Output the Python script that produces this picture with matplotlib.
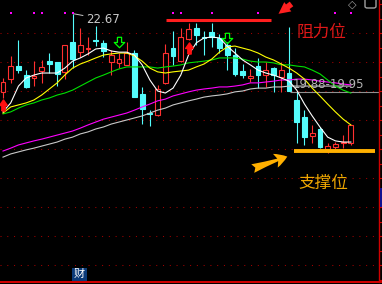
import matplotlib
matplotlib.use('Agg')
import numpy as np
import matplotlib.pyplot as plt
from matplotlib.patches import Rectangle, FancyBboxPatch

plt.rcParams['font.family'] = ['Noto Sans CJK SC', 'DejaVu Sans']

# daily candles
opens = [19.97, 20.41, 20.86, 20.55, 20.45, 20.69, 21.03, 21.00, 20.66, 21.69,
         21.35, 21.45, 21.76, 21.66, 21.00, 20.97, 20.90, 21.31, 19.90, 19.24,
         19.17, 20.28, 21.48, 21.03, 21.79, 22.17, 21.86, 22.03, 21.83, 21.59,
         21.24, 20.69, 20.45, 20.86, 20.55, 20.79, 20.48, 20.62, 19.69, 19.10,
         18.45, 18.69, 18.00, 18.07, 18.21, 18.21]
highs = [20.45, 21.21, 21.76, 20.72, 21.03, 21.07, 21.31, 21.00, 21.59, 22.67,
         22.17, 21.86, 22.24, 21.76, 21.41, 21.31, 21.69, 21.41, 20.14, 19.35,
         20.21, 21.62, 22.07, 22.17, 22.34, 22.34, 22.07, 22.34, 21.97, 21.69,
         21.48, 20.93, 20.76, 21.14, 21.00, 20.83, 21.00, 22.21, 19.97, 19.35,
         18.83, 18.76, 18.21, 18.24, 18.48, 18.83]
lows = [19.76, 20.28, 20.62, 20.10, 20.17, 20.28, 20.62, 20.17, 20.41, 20.79,
        21.17, 21.24, 21.55, 21.17, 20.55, 20.79, 20.90, 19.79, 18.86, 18.79,
        19.14, 20.24, 20.90, 21.00, 21.76, 21.59, 21.24, 21.52, 21.31, 20.72,
        20.52, 20.45, 20.31, 20.10, 20.14, 19.97, 19.97, 20.00, 18.21, 18.14,
        18.21, 18.03, 17.86, 18.00, 18.03, 18.14]
closes = [20.31, 20.86, 20.72, 20.14, 20.52, 20.83, 20.93, 20.59, 21.59, 21.10,
          21.59, 21.48, 21.72, 21.38, 21.24, 21.10, 21.31, 19.79, 19.38, 19.21,
          20.07, 21.31, 21.21, 21.86, 22.14, 21.93, 21.83, 21.86, 21.48, 21.24,
          20.59, 20.55, 20.52, 20.55, 20.72, 20.55, 20.72, 20.00, 18.93, 18.41,
          18.55, 18.07, 18.10, 18.17, 18.24, 18.83]

# moving averages
ma5 = [19.28, 19.59, 20.17, 20.45, 20.55, 20.62, 20.62, 20.62, 20.79, 21.03,
       21.14, 21.28, 21.45, 21.48, 21.38, 21.34, 21.34, 21.24, 20.90, 20.38,
       20.00, 19.93, 20.10, 20.55, 21.24, 21.66, 21.83, 21.86, 21.83, 21.55,
       21.31, 21.07, 20.90, 20.72, 20.62, 20.55, 20.45, 20.34, 20.03, 19.55,
       19.14, 18.76, 18.41, 18.28, 18.24, 18.24]
ma10 = [19.24, 19.45, 19.52, 19.59, 19.69, 19.86, 20.07, 20.28, 20.55, 20.79,
        20.93, 21.03, 21.14, 21.24, 21.28, 21.31, 21.31, 21.21, 21.03, 20.79,
        20.66, 20.62, 20.66, 20.69, 20.72, 20.83, 20.93, 21.10, 21.34, 21.52,
        21.55, 21.48, 21.41, 21.31, 21.17, 21.07, 20.93, 20.79, 20.62, 20.41,
        20.10, 19.83, 19.55, 19.28, 19.03, 18.83]
ma20 = [19.21, 19.28, 19.41, 19.52, 19.59, 19.69, 19.76, 19.86, 19.93, 20.03,
        20.17, 20.31, 20.45, 20.55, 20.66, 20.76, 20.83, 20.83, 20.83, 20.83,
        20.79, 20.83, 20.86, 20.90, 20.97, 21.00, 21.03, 21.07, 21.14, 21.14,
        21.14, 21.10, 21.03, 21.00, 21.00, 20.97, 20.90, 20.90, 20.86, 20.83,
        20.72, 20.59, 20.38, 20.17, 20.03, 19.93]
ma60 = [17.93, 18.03, 18.14, 18.21, 18.28, 18.34, 18.41, 18.48, 18.55, 18.62,
        18.72, 18.83, 18.93, 19.03, 19.10, 19.17, 19.24, 19.34, 19.45, 19.55,
        19.66, 19.72, 19.83, 19.90, 19.97, 20.03, 20.07, 20.10, 20.14, 20.14,
        20.17, 20.21, 20.28, 20.28, 20.31, 20.34, 20.38, 20.38, 20.41, 20.41,
        20.38, 20.34, 20.31, 20.28, 20.24, 20.21]
ma120 = [17.72, 17.83, 17.90, 17.97, 18.03, 18.10, 18.17, 18.24, 18.34, 18.41,
         18.52, 18.59, 18.69, 18.76, 18.86, 18.93, 19.00, 19.07, 19.14, 19.24,
         19.34, 19.41, 19.52, 19.59, 19.66, 19.72, 19.79, 19.83, 19.86, 19.90,
         19.97, 20.00, 20.07, 20.10, 20.10, 20.14, 20.14, 20.17, 20.17, 20.17,
         20.17, 20.17, 20.17, 20.17, 20.17, 20.17]

buy_idx = [0, 24]
buy_y = [19.52, 21.50]
sell_idx = [15, 29]
sell_y = [21.69, 21.83]
dot_idx = [1, 4, 5, 8, 9, 22, 23, 27, 33, 43, 45]

high_idx = 9
high_label = '22.67'
tag_label = '19.88-19.95'
tag_level = 19.95
resist_level = 22.45
support_level = 17.93
grid_levels = [14, 15, 16, 17, 18, 19, 20, 21, 22]

up_c = '#FF3030'
down_c = '#54FCFC'
axis_red = '#D00000'

fig = plt.figure(figsize=(3.82, 2.84), dpi=100, facecolor='black')
ax = fig.add_axes([0, 2 / 284, 379 / 382, 282 / 284])
ax.set_facecolor('black')
ax.set_xlim(-0.388, 48.64)
ax.set_ylim(13.414, 23.138)

for lv in grid_levels:
    ax.axhline(lv, color='#A00000', lw=0.75, ls=(0, (1, 5.5)), zorder=1)

w = 0.62
for i, (o, h, l, c) in enumerate(zip(opens, highs, lows, closes)):
    if c >= o:
        ax.vlines(i, c, h, color=up_c, lw=0.8, zorder=3)
        ax.vlines(i, l, o, color=up_c, lw=0.8, zorder=3)
        ax.add_patch(Rectangle((i - w / 2, o), w, max(c - o, 0.005), facecolor='black',
                               edgecolor=up_c, lw=0.8, zorder=3))
    else:
        ax.vlines(i, l, h, color=down_c, lw=0.8, zorder=3)
        ax.add_patch(Rectangle((i - w / 2, c), w, o - c, facecolor=down_c,
                               edgecolor=down_c, lw=0.8, zorder=3))

x = np.arange(len(closes))
ax.plot(x, ma120, color='#C8C8C8', lw=0.8, zorder=4)
ax.plot(x, ma60, color='#FF00FF', lw=0.8, zorder=4)
ax.plot(x, ma20, color='#00E000', lw=0.8, zorder=4)
ax.plot(x, ma10, color='#FFFF00', lw=0.8, zorder=4)
ax.plot(x, ma5, color='#FFFFFF', lw=0.8, zorder=4)

# signal arrows
up_arrow = [(-0.15, -0.5), (0.15, -0.5), (0.15, 0.0), (0.35, 0.0), (0, 0.5),
            (-0.35, 0.0), (-0.15, 0.0), (-0.15, -0.5)]
down_arrow = [(px, -py) for px, py in [(-0.2, -0.5), (0.2, -0.5), (0.2, 0.0), (0.5, 0.0),
                                         (0, 0.5), (-0.5, 0.0), (-0.2, 0.0), (-0.2, -0.5)]]
ax.plot(buy_idx, buy_y, ls='none', marker=up_arrow, ms=8, mfc='#FF1010', mec='#FF1010',
        zorder=5)
ax.plot(sell_idx, sell_y, ls='none', marker=down_arrow, ms=7.5, mfc='none', mec='#00FF00',
        mew=0.9, zorder=5)
ax.scatter(dot_idx, [1 - 12.5 / 282] * len(dot_idx), transform=ax.get_xaxis_transform(),
           marker='s', s=2.5, color='#FF00FF', lw=0, zorder=5)

ax.annotate(high_label, xy=(high_idx, highs[high_idx]), xytext=(9.5, -4),
            textcoords='offset points', ha='left', va='center', color='#C8C8C8',
            fontsize=8.5, family='DejaVu Sans',
            arrowprops=dict(arrowstyle='-', color='#C8C8C8', lw=0.7, shrinkA=0, shrinkB=0))

# user drawn lines and notes
ax.hlines(tag_level, 37.1, 48.64, color='#909090', lw=0.8, zorder=2)
ax.text(37.5, 20.24, tag_label, color='#B4B4B4', fontsize=8.5, family='DejaVu Sans',
        ha='left', va='center', zorder=6)
ax.hlines(resist_level, 21.1, 34.7, color='#FF1E1E', lw=2.2, zorder=6)
ax.hlines(support_level, 37.6, 48.1, color='#FFB000', lw=2.8, zorder=6)

ax.annotate('', xy=(0.729, 0.945), xytext=(0.775, 0.992), xycoords='axes fraction',
            arrowprops=dict(arrowstyle='simple,head_length=0.6,head_width=0.6,tail_width=0.3',
                            mutation_scale=14, fc='#FF2020', ec='none'))
ax.annotate('', xy=(0.765, 0.448), xytext=(0.660, 0.399), xycoords='axes fraction',
            arrowprops=dict(arrowstyle='fancy,head_length=0.7,head_width=0.8,tail_width=0.5',
                            mutation_scale=13, fc='#FFB000', ec='none'))
ax.text(0.847, 0.887, '阻力位', transform=ax.transAxes, color='#E01818', fontsize=12,
        ha='center', va='center')
ax.text(0.852, 0.351, '支撑位', transform=ax.transAxes, color='#F0A800', fontsize=12,
        ha='center', va='center')
ax.text(0.21, 0.027, '财', transform=ax.transAxes, color='white', fontsize=8,
        ha='center', va='center', bbox=dict(boxstyle='square,pad=0.15', fc='#0B3A78', ec='none'))
ax.text(0.929, 0.985, '◇', transform=ax.transAxes, color='#A0A0A0', fontsize=8,
        family='DejaVu Sans', ha='center', va='center')
fig.patches.append(FancyBboxPatch((365 / 382, 276 / 284), 11 / 382, 13 / 284,
                                  boxstyle='round,pad=0,rounding_size=0.006',
                                  transform=fig.transFigure, fc='none', ec='#A0A0A0', lw=1))
fig.patches.append(Rectangle((380 / 382, 77 / 284), 2 / 382, 19 / 284,
                             transform=fig.transFigure, fc='#101090', ec='none'))

# axes frame: red right and bottom
for s in ['top', 'left']:
    ax.spines[s].set_visible(False)
ax.spines['right'].set_color(axis_red)
ax.spines['bottom'].set_color(axis_red)
ax.spines['right'].set_linewidth(1.0)
ax.spines['bottom'].set_linewidth(1.4)
ax.set_xticks([])
ax.yaxis.tick_right()
ax.set_yticks(np.arange(13.5, 23.1, 0.5))
ax.tick_params(axis='y', direction='out', length=2.5, color=axis_red, labelright=False)
fig.lines.append(plt.Line2D([0, 1], [2.5 / 284, 2.5 / 284], transform=fig.transFigure,
                            color=axis_red, lw=1.4))

fig.savefig('out.png', dpi=100, facecolor='black')
